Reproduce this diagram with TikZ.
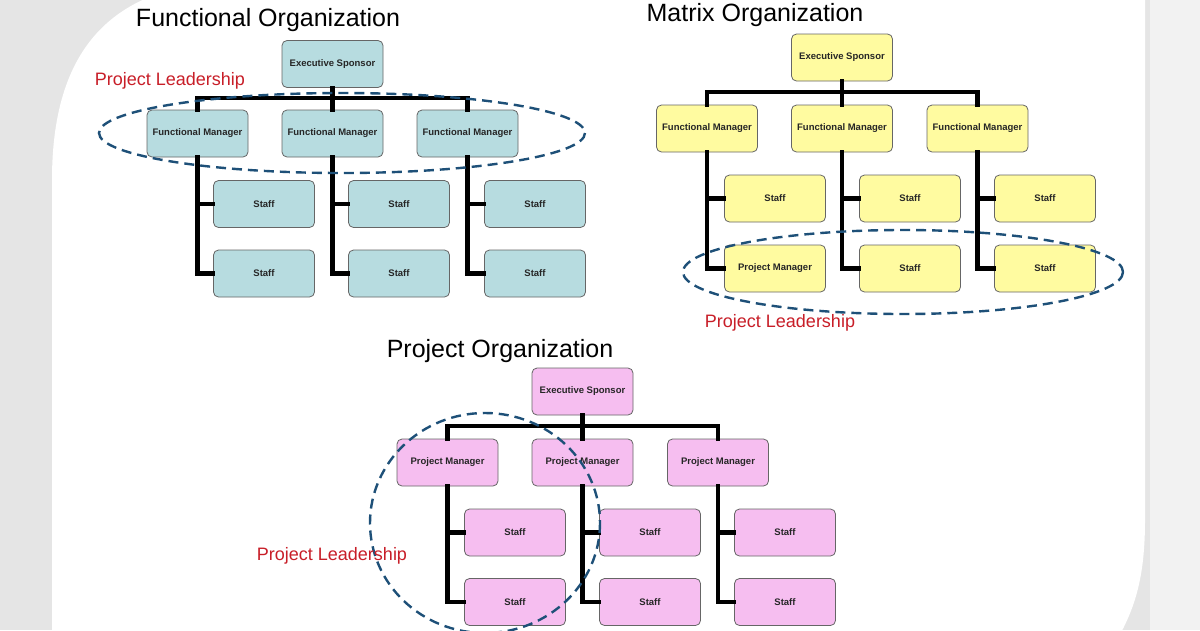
\documentclass[tikz,border=0pt]{standalone}
\usepackage{fontspec}
\setmainfont{Liberation Sans}
\begin{document}
\begin{tikzpicture}[x=1pt,y=-1pt,
  bx/.style={draw=black!60,line width=0.8pt,rounded corners=5pt,minimum width=101pt,minimum height=47pt,inner sep=0pt,font=\bfseries\fontsize{9.5}{10}\selectfont,text=black!85},
  fb/.style={bx,fill={rgb,255:red,183;green,220;blue,224}},
  mb/.style={bx,fill={rgb,255:red,255;green,251;blue,160}},
  pb/.style={bx,fill={rgb,255:red,246;green,190;blue,240}},
  ln/.style={line width=4.5pt,line cap=rect},
  el/.style={draw={rgb,255:red,30;green,80;blue,120},line width=2.4pt,dash pattern=on 10pt off 6pt},
  ttl/.style={font=\fontsize{25}{27}\selectfont},
  pl/.style={text={rgb,255:red,200;green,30;blue,40},font=\fontsize{18}{20}\selectfont}]
\useasboundingbox (0,0) rectangle (1200,630);
\fill[black!10] (0,0) rectangle (1200,630);
\fill[black!5] (1150,0) rectangle (1200,630);
\fill[white] (52,680) -- (52,180) .. controls (52,40) and (120,-20) .. (250,-20) -- (1145,-20) -- (1145,520) .. controls (1145,590) and (1130,620) .. (1105,660) -- (52,680);
% Functional
\node[ttl] (t1) at (268,20) {Functional Organization};
\node[fb] (fe) at (332.5,64) {Executive Sponsor};
\node[fb] (f1) at (197.5,133.5) {Functional Manager};
\node[fb] (f2) at (332.5,133.5) {Functional Manager};
\node[fb] (f3) at (467.5,133.5) {Functional Manager};
\foreach \i/\x in {1/264,2/399,3/535}{
 \node[fb] (fs\i a) at (\x,204) {Staff};
 \node[fb] (fs\i b) at (\x,273.5) {Staff};}
% Matrix
\node[ttl] (t2) at (755,15) {Matrix Organization};
\node[mb] (me) at (842,57.5) {Executive Sponsor};
\node[mb] (m1) at (707,128.5) {Functional Manager};
\node[mb] (m2) at (842,128.5) {Functional Manager};
\node[mb] (m3) at (977.5,128.5) {Functional Manager};
\node[mb] (ms1a) at (775,198.5) {Staff};
\node[mb] (ms1b) at (775,268.5) {Project Manager};
\node[mb] (ms2a) at (910,198.5) {Staff};
\node[mb] (ms2b) at (910,268.5) {Staff};
\node[mb] (ms3a) at (1045,198.5) {Staff};
\node[mb] (ms3b) at (1045,268.5) {Staff};
% Project
\node[ttl] (t3) at (500,351) {Project Organization};
\node[pb] (pe) at (582.5,391.5) {Executive Sponsor};
\node[pb] (p1) at (447.5,462.5) {Project Manager};
\node[pb] (p2) at (582.5,462.5) {Project Manager};
\node[pb] (p3) at (718,462.5) {Project Manager};
\foreach \i/\x in {1/515,2/650,3/785}{
 \node[pb] (ps\i a) at (\x,532.5) {Staff};
 \node[pb] (ps\i b) at (\x,602) {Staff};}
% connectors
\foreach \t/\a/\b/\c/\y in {fe/f1/f2/f3/98, me/m1/m2/m3/92, pe/p1/p2/p3/426}{
 \draw[ln] (\t.south) -- (\t.south |- 0,\y);
 \draw[ln] (\a.north) -- (\a.north |- 0,\y) -- (\c.north |- 0,\y) -- (\c.north);
 \draw[ln] (\b.north) -- (\b.north |- 0,\y);}
\foreach \p/\s in {f1/fs1,f2/fs2,f3/fs3,m1/ms1,m2/ms2,m3/ms3,p1/ps1,p2/ps2,p3/ps3}{
 \draw[ln] (\p.south) -- (\p.south |- \s b.west) -- (\s b.west);
 \draw[ln] (\p.south |- \s a.west) -- (\s a.west);}
% ellipses
\draw[el] (342,133) ellipse [x radius=243,y radius=40];
\draw[el] (903,272) ellipse [x radius=220,y radius=42];
\draw[el] (485,523) ellipse [x radius=115,y radius=110];
\node[pl] (l1) at (170,81) {Project Leadership};
\node[pl] (l2) at (780,323) {Project Leadership};
\node[pl] (l3) at (332,556) {Project Leadership};
\end{tikzpicture}
\end{document}
